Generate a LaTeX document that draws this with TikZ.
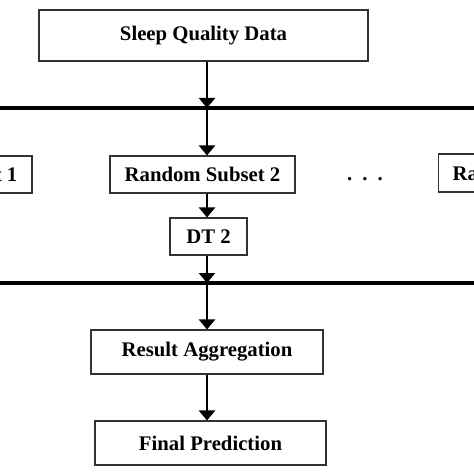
\documentclass[tikz,border=0pt]{standalone}
\usepackage{fontspec}
\setmainfont{Liberation Serif}
\usepackage{xcolor}
\usetikzlibrary{arrows.meta}

\begin{document}
\begin{tikzpicture}[
    box/.style={draw=black!80, line width=0.6pt, fill=white, inner sep=0pt,
        font=\fontsize{11.8}{14}\selectfont\bfseries},
    arr/.style={line width=1.4pt, -{Triangle[width=0.32cm, length=0.2cm]}},
    bar/.style={line width=1.8pt}
]
    \useasboundingbox (0,0) rectangle (9.48,-9.48);

    % Input data
    \node[box, minimum width=6.58cm, minimum height=1.02cm] (data) at (4.07,-0.71) {Sleep Quality Data};

    % Split and join bars
    \coordinate (split) at (4.14,-2.16);
    \coordinate (join) at (4.14,-5.66);
    \draw[bar] (0,-2.16) -- (9.48,-2.16);
    \draw[bar] (0,-5.66) -- (9.48,-5.66);

    % Random subsets
    \node[box, minimum width=3.7cm, minimum height=0.74cm] (subset1) at (-1.21,-3.49) {Random Subset 1};
    \node[box, minimum width=3.7cm, minimum height=0.74cm] (subset2) at (4.05,-3.49) {Random Subset 2};
    \node[box, minimum width=3.7cm, minimum height=0.76cm, anchor=west] (subsetn) at (8.76,-3.46) {Random Subset n};
    \node[font=\fontsize{11.8}{14}\selectfont\bfseries, anchor=base, inner sep=0pt] (dots) at (7.3,-3.62) {.\hspace{0.2cm}.\hspace{0.2cm}.};

    % Decision tree
    \node[box, minimum width=1.54cm, minimum height=0.74cm] (tree2) at (4.17,-4.73) {DT 2};

    % Output
    \node[box, minimum width=4.64cm, minimum height=0.88cm] (aggr) at (4.14,-7.04) {Result Aggregation};
    \node[box, minimum width=4.62cm, minimum height=0.88cm] (final) at (4.21,-8.86) {Final Prediction};

    % Arrows
    \draw[arr] (data.south -| split) -- (split);
    \draw[arr] (split) -- (subset2.north -| split);
    \draw[arr] (subset2.south -| split) -- (tree2.north -| split);
    \draw[arr] (tree2.south -| join) -- (join);
    \draw[arr] (join) -- (aggr.north -| join);
    \draw[arr] (aggr.south -| join) -- (final.north -| join);
\end{tikzpicture}
\end{document}
